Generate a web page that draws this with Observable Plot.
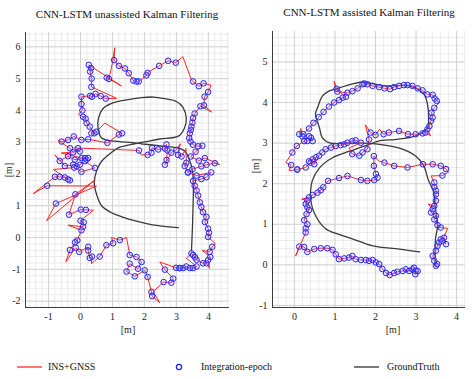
<!DOCTYPE html>
<html>
<head>
<meta charset="utf-8">
<script src="https://cdn.jsdelivr.net/npm/d3@7"></script>
<script src="https://cdn.jsdelivr.net/npm/@observablehq/plot@0.6"></script>
<style>
  html, body { margin: 0; padding: 0; background: #fff; }
  #fig { position: relative; width: 474px; height: 379px; background: #fff; font-family: "Liberation Serif", "Times New Roman", serif; color: #111; overflow: hidden; }
  #fig svg, #fig svg text { font-family: "Liberation Serif", "Times New Roman", serif !important; }
  #fig svg g[aria-label$="tick label"] text { fill: #262626; }
  .abs { position: absolute; white-space: nowrap; }
  .title { font-size: 11px; transform: translate(-50%, -50%); }
  .lab { font-size: 10px; color: #262626; transform: translate(-50%, -50%); }
  .ylab { font-size: 10px; color: #262626; transform: translate(-50%, -50%) rotate(-90deg); }
  .leg { font-size: 10px; top: 361px; }
</style>
</head>
<body>
<div id="fig">
  <div id="p1" class="abs" style="left:0;top:0"></div>
  <div id="p2" class="abs" style="left:237px;top:0"></div>
  <div class="abs title" style="left:127px;top:14px">CNN-LSTM unassisted Kalman Filtering</div>
  <div class="abs title" style="left:369px;top:12px">CNN-LSTM assisted Kalman Filtering</div>
  <div class="abs lab" style="left:128px;top:329px">[m]</div>
  <div class="abs lab" style="left:393px;top:329px">[m]</div>
  <div class="abs ylab" style="left:8px;top:170px">[m]</div>
  <div class="abs ylab" style="left:255px;top:166px">[m]</div>
  <div id="legend"></div>
</div>
<script>
// ---------------- data ----------------
const titles = ["CNN-LSTM unassisted Kalman Filtering", "CNN-LSTM assisted Kalman Filtering"];
const legendLabels = ["INS+GNSS", "Integration-epoch", "GroundTruth"];

const xTicksLeft = [-1, 0, 1, 2, 3, 4];
const yTicksLeft = [-2, -1, 0, 1, 2, 3, 4, 5, 6];
const xTicksRight = [0, 1, 2, 3, 4];
const yTicksRight = [-1, 0, 1, 2, 3, 4, 5];

// ground truth trajectories [x, y]
const gtLeft = [[3.47,-0.42],[3.50,0.30],[3.52,1.00],[3.53,1.60],[3.50,2.10],[3.41,2.44],[3.22,2.75],[2.48,2.88],[1.90,2.95],[1.44,3.00],[1.07,3.03],[0.66,3.13],[0.55,3.45],[0.56,3.75],[0.70,4.05],[0.97,4.22],[1.44,4.33],[1.90,4.40],[2.28,4.42],[2.63,4.37],[3.00,4.28],[3.20,4.10],[3.31,3.75],[3.25,3.44],[3.06,3.19],[2.48,3.10],[2.06,3.02],[1.60,2.93],[1.18,2.82],[0.90,2.62],[0.66,2.40],[0.50,2.09],[0.43,1.72],[0.50,1.37],[0.66,1.00],[0.97,0.78],[1.30,0.65],[1.69,0.53],[2.10,0.43],[2.44,0.375],[3.06,0.31]];

const gtRight = [[3.48,-0.02],[3.47,0.30],[3.48,0.64],[3.53,0.96],[3.50,1.25],[3.46,1.53],[3.43,1.82],[3.31,2.07],[3.19,2.44],[2.99,2.68],[2.57,2.88],[2.00,2.98],[1.60,3.00],[1.26,3.00],[0.89,3.00],[0.69,3.13],[0.62,3.37],[0.52,3.72],[0.57,3.87],[0.69,4.16],[0.85,4.28],[1.11,4.36],[1.43,4.46],[1.70,4.50],[2.22,4.41],[2.83,4.41],[3.19,4.21],[3.28,3.97],[3.31,3.62],[3.28,3.37],[2.99,3.18],[2.57,3.10],[2.07,3.05],[1.93,3.00],[1.36,2.80],[0.94,2.64],[0.62,2.39],[0.44,2.07],[0.40,1.82],[0.40,1.63],[0.49,1.28],[0.77,0.89],[1.10,0.75],[1.43,0.64],[1.93,0.47],[2.59,0.39],[3.09,0.32]];

// INS+GNSS paths [x, y, isIntegrationEpoch]
const insLeftA = [[3.10,-0.96,1],[3.21,-0.96,1],[3.31,-0.91,1],[3.42,-0.96,1],[3.52,-0.96,1],[3.63,-0.91,1],[3.31,-0.65,0],[3.47,-0.50,1],[3.52,-0.55,1],[3.58,-0.62,1],[3.63,-0.70,1],[3.83,-0.81,1],[3.94,-0.81,1],[4.04,-0.97,0],[3.99,-0.71,1],[4.06,-0.61,1],[3.80,-0.40,0],[4.04,-0.45,1],[4.12,-0.29,1],[4.22,-0.20,0],[3.99,0.02,1],[4.02,0.15,1],[3.99,0.28,1],[3.89,0.49,1],[3.94,0.65,1],[3.83,0.80,1],[3.78,0.96,1],[3.73,1.11,1],[3.68,1.32,1],[3.63,1.48,1],[3.57,1.63,1],[3.52,1.78,1],[3.78,1.84,1],[3.94,1.90,1],[4.09,2.05,1],[3.63,1.95,1],[3.36,2.05,1],[3.50,2.15,1],[3.78,2.24,1],[3.94,2.29,1],[4.20,2.34,1],[4.35,2.30,0],[3.89,2.50,1],[3.70,2.42,1],[3.45,2.55,1],[3.60,2.70,1],[3.81,2.89,1],[3.68,2.87,1],[3.52,2.92,1],[3.44,3.02,1],[3.40,3.13,1],[3.42,3.28,1],[3.45,3.39,1],[3.47,3.49,1],[3.50,3.62,1],[3.52,3.76,1],[3.57,3.90,1],[3.75,4.13,1],[4.10,3.95,0],[3.86,4.16,1],[3.88,4.43,1],[3.99,4.58,1],[4.09,4.79,0],[3.85,4.85,1],[3.70,4.76,1],[3.52,4.91,1],[3.47,4.96,0],[3.20,5.69,0],[2.98,5.50,1],[2.74,5.56,1],[2.46,5.40,1],[2.20,5.25,0],[2.10,5.18,1],[2.06,5.10,1],[1.82,4.91,1],[1.75,4.91,1],[1.65,4.94,1],[1.51,5.17,1],[1.39,5.32,1],[1.20,5.40,1],[1.05,5.58,1],[1.07,5.97,0],[1.00,5.50,0],[0.89,4.99,1],[0.82,5.03,1],[1.28,4.77,0],[0.26,5.43,1],[0.33,5.33,1],[0.30,5.22,1],[0.35,5.00,1],[0.34,4.74,1],[1.13,4.38,0],[0.79,4.37,1],[0.63,4.45,1],[0.47,4.52,1],[0.36,4.43,1],[0.30,4.46,1],[0.03,4.43,1],[0.03,4.20,1],[0.06,4.00,1],[-0.07,3.88,0],[0.08,3.80,1],[0.16,3.74,1],[0.19,3.60,1],[0.29,3.49,1],[0.43,3.28,1],[0.34,3.28,1],[0.50,3.33,1],[0.76,3.60,0],[1.30,3.28,1],[1.20,3.24,1],[0.84,2.98,1],[0.24,3.09,1],[0.03,3.07,1],[-0.21,3.18,1],[-0.39,3.07,1],[-0.59,3.02,1],[-0.70,3.05,0],[-0.33,2.81,1],[-0.23,2.68,1],[-0.08,2.81,1],[-0.02,2.71,1],[-0.60,2.66,0],[0.03,2.50,1],[0.14,2.50,1],[0.19,2.45,1],[0.24,2.50,1],[-0.18,2.45,1],[-0.39,2.56,1],[-0.65,2.41,1],[-0.80,2.60,0],[-0.49,2.25,1],[-0.23,2.29,1],[-0.12,2.24,1],[-0.02,2.29,1],[0.14,2.40,1],[0.45,2.19,1],[0.03,2.07,1],[-0.20,2.20,1],[-0.85,2.14,0],[-0.33,1.80,1],[-0.39,1.83,1],[-0.49,1.89,1],[-0.65,1.91,1],[-0.80,1.91,1],[-1.48,1.38,0],[-1.04,1.63,1],[0.50,1.62,0],[-0.77,1.07,1],[-1.06,0.53,0],[0.45,1.81,0],[-0.16,1.36,1],[-0.36,0.72,1],[0.01,0.88,1],[0.17,0.87,1],[0.40,0.86,0],[0.00,0.53,1],[0.10,0.48,1],[0.08,0.34,1],[-0.39,0.39,0],[0.03,0.23,1],[-0.10,-0.09,1],[-0.17,-0.15,1],[-0.33,-0.39,1],[-0.46,-0.76,0],[-0.15,-0.32,1],[-0.04,-0.45,1],[0.24,-0.29,1],[0.24,-0.41,1],[0.29,-0.64,1],[0.36,-0.60,1],[0.34,-0.82,0],[0.60,-0.60,1],[0.81,-0.24,1],[1.02,-0.18,1],[0.97,0.00,0],[1.23,-0.08,1],[1.44,0.00,0],[1.54,-0.55,1],[1.75,-0.61,1],[1.91,-0.77,1],[1.80,-0.98,1],[1.54,-0.82,1],[1.44,-1.07,1],[1.70,-1.22,1],[2.01,-1.03,1],[2.10,-1.24,1],[2.22,-1.71,1],[2.24,-1.84,1],[2.48,-2.05,0],[2.27,-1.70,0],[2.60,-1.40,1],[2.84,-1.42,1],[2.90,-1.29,1],[2.64,-1.01,1],[2.48,-0.77,0],[2.99,-0.95,1],[3.10,-0.96,1]];

const insLeftB = [[-0.20,2.82,0],[1.83,2.74,1],[1.90,2.60,0],[2.10,2.60,1],[2.22,2.67,1],[2.24,2.82,1],[2.43,2.77,1],[2.64,2.80,1],[2.69,2.93,1],[2.72,2.74,1],[2.69,2.44,1],[2.64,2.29,1],[2.84,2.67,1],[3.00,2.76,1],[3.12,2.95,0],[3.05,2.60,1],[3.16,2.55,1],[3.30,2.80,0],[3.31,2.35,1],[3.26,2.25,1],[3.36,2.05,1]];

const insRightA = [[3.49,-0.02,1],[3.52,0.02,1],[3.45,0.10,1],[3.41,0.22,1],[3.49,0.35,1],[3.53,0.47,1],[3.57,0.55,1],[3.61,0.63,1],[3.69,0.67,1],[3.74,0.51,1],[3.65,0.59,1],[3.78,0.90,0],[3.61,0.92,1],[3.53,0.98,1],[3.45,1.12,1],[3.49,1.21,1],[3.37,1.29,1],[3.41,1.37,1],[3.30,1.50,0],[3.45,1.45,1],[3.49,1.58,1],[3.49,1.74,1],[3.49,1.83,1],[3.45,1.92,1],[3.45,2.03,1],[3.37,2.19,0],[3.65,2.20,1],[3.80,2.28,0],[3.74,2.36,1],[3.61,2.44,1],[3.41,2.48,1],[3.17,2.48,1],[2.79,2.40,1],[2.46,2.44,1],[2.22,2.52,1],[2.08,2.56,0],[1.96,2.68,1],[1.96,2.44,1],[2.01,2.24,1],[2.05,2.15,1],[1.97,2.09,1],[1.80,2.07,1],[1.64,2.09,1],[1.31,2.19,1],[1.10,2.14,1],[0.83,2.07,1],[0.71,1.91,1],[0.65,1.84,1],[0.57,1.78,1],[0.45,1.72,1],[0.36,1.66,1],[0.18,1.62,0],[0.32,1.58,1],[0.28,1.50,1],[0.32,1.42,1],[0.36,1.35,1],[0.30,1.25,1],[0.24,1.10,1],[0.32,1.00,1],[0.28,0.90,1],[0.28,0.80,1],[0.03,0.22,0],[0.12,0.45,1],[0.24,0.44,1],[0.32,0.32,1],[0.49,0.39,1],[0.65,0.41,1],[0.81,0.41,1],[0.94,0.37,1],[1.02,0.26,1],[1.10,0.14,1],[1.23,0.16,1],[1.35,0.18,1],[1.43,0.22,1],[1.51,0.14,1],[1.64,0.12,1],[1.76,0.12,1],[1.84,0.10,1],[1.93,0.12,1],[2.01,0.06,1],[2.09,0.02,1],[2.17,-0.10,1],[2.26,-0.20,1],[2.35,-0.25,1],[2.46,-0.20,1],[2.54,-0.17,1],[2.67,-0.15,1],[2.75,-0.11,1],[2.83,-0.15,1],[2.91,-0.11,1],[2.95,-0.07,1],[2.99,-0.15,1],[2.98,-0.23,1],[3.04,-0.15,1]];

const insRightB = [[0.07,2.35,1],[0.28,2.40,1],[0.40,2.52,1],[0.45,2.60,1],[0.36,2.55,1],[0.53,2.65,1],[0.49,2.48,1],[0.61,2.69,1],[0.69,2.77,1],[0.77,2.85,1],[0.90,2.89,1],[1.02,2.93,1],[1.14,2.95,1],[1.23,2.97,1],[1.31,3.01,1],[1.43,3.05,1],[1.51,3.07,1],[1.64,3.01,1],[1.35,2.88,0],[1.43,2.73,1],[1.60,2.69,1],[1.68,2.77,1],[1.80,2.85,1],[1.84,3.09,1],[1.75,3.45,0],[1.88,3.26,1],[2.00,3.20,1],[2.10,3.34,0],[2.20,3.22,1],[2.33,3.26,1],[2.58,3.30,1],[2.80,3.22,1],[2.99,3.22,1],[3.16,3.24,1],[3.23,3.26,1],[3.36,3.18,0],[3.28,3.34,1],[3.33,3.42,1],[3.37,3.55,1],[3.41,3.63,1],[3.38,3.75,1],[3.45,3.87,1],[3.58,4.00,0],[3.51,4.04,1],[3.46,4.10,1],[3.41,4.19,1],[3.28,4.20,1],[3.16,4.30,1],[3.04,4.35,1],[2.91,4.41,1],[2.79,4.43,1],[2.70,4.43,1],[2.58,4.41,1],[2.46,4.38,1],[2.36,4.33,1],[2.22,4.35,1],[2.09,4.38,1],[1.93,4.41,1],[1.80,4.45,1],[1.72,4.47,1],[1.68,4.45,1],[1.56,4.35,1],[1.43,4.28,1],[1.31,4.24,1],[1.06,4.27,1],[1.04,4.34,1],[0.98,4.53,0],[1.02,4.33,0],[1.27,4.14,1],[1.19,4.12,1],[1.10,4.06,1],[0.98,4.00,1],[0.85,3.90,1],[0.72,3.77,1],[0.60,3.64,1],[0.47,3.50,1],[0.36,3.36,1],[0.22,3.22,1],[0.12,3.22,1],[0.16,3.36,0],[0.20,3.16,1],[0.32,3.05,1],[0.41,3.13,1],[0.45,3.05,1],[0.36,3.17,1],[0.24,3.05,1],[0.06,2.93,1],[-0.05,2.77,1],[-0.21,2.52,0],[-0.08,2.46,1],[-0.13,2.32,0],[0.07,2.35,1]];

// ---------------- drawing ----------------
const RED = "#ff1a1a", BLUE = "#2424ff", GT = "#3a3a3a";

function minorTicks([a, b]) {
  return d3.range(Math.ceil(a * 5), Math.floor(b * 5) + 1).map(k => k / 5);
}

function panel({xDomain, yDomain, xTicks, yTicks, gt, segs, margins}) {
  const ins = segs.flatMap((s, i) => s.map(d => ({x: d[0], y: d[1], e: d[2], s: i})));
  return Plot.plot({
    width: 237,
    height: 340,
    ...margins,
    style: {fontFamily: "'Liberation Serif', 'Times New Roman', serif", fontSize: "10px", color: "#262626", background: "transparent"},
    x: {domain: xDomain, ticks: xTicks, tickSize: 0, tickPadding: 5, tickFormat: d => String(d), label: null},
    y: {domain: yDomain, ticks: yTicks, tickSize: 0, tickPadding: 5, tickFormat: d => String(d), label: null},
    marks: [
      Plot.ruleX(minorTicks(xDomain), {stroke: "#e6e6e6", strokeWidth: 0.8}),
      Plot.ruleY(minorTicks(yDomain), {stroke: "#e6e6e6", strokeWidth: 0.8}),
      Plot.ruleX(xTicks, {stroke: "#d0d0d0", strokeWidth: 0.9}),
      Plot.ruleY(yTicks, {stroke: "#d0d0d0", strokeWidth: 0.9}),
      Plot.ruleX([xDomain[0]], {stroke: "#3c3c3c", strokeWidth: 1}),
      Plot.ruleY([yDomain[0]], {stroke: "#3c3c3c", strokeWidth: 1}),
      Plot.line(gt, {x: d => d[0], y: d => d[1], stroke: GT, strokeWidth: 1.3, curve: "catmull-rom"}),
      Plot.line(ins, {x: "x", y: "y", z: "s", stroke: RED, strokeWidth: 0.95}),
      Plot.dot(ins.filter(d => d.e), {x: "x", y: "y", r: 2.8, stroke: BLUE, strokeWidth: 1, fill: "#a898ff", fillOpacity: 0.2})
    ]
  });
}

document.getElementById("p1").appendChild(panel({
  xDomain: [-1.72, 4.66], yDomain: [-2.2, 6.45],
  xTicks: xTicksLeft, yTicks: yTicksLeft,
  gt: gtLeft, segs: [insLeftA, insLeftB],
  margins: {marginLeft: 25, marginRight: 8, marginTop: 32, marginBottom: 33}
}));

document.getElementById("p2").appendChild(panel({
  xDomain: [-0.54, 4.22], yDomain: [-1.05, 5.75],
  xTicks: xTicksRight, yTicks: yTicksRight,
  gt: gtRight, segs: [insRightA, insRightB],
  margins: {marginLeft: 35, marginRight: 9, marginTop: 31, marginBottom: 33}
}));

// legend
const leg = document.getElementById("legend");
leg.innerHTML = `
<svg class="abs" style="left:0;top:355px" width="474" height="24">
  <line x1="17" x2="42" y1="12" y2="12" stroke="${RED}" stroke-width="1.2"/>
  <circle cx="179" cy="12" r="2.6" fill="none" stroke="${BLUE}" stroke-width="1.3"/>
  <line x1="354" x2="379" y1="12" y2="12" stroke="#222" stroke-width="1.2"/>
</svg>
<div class="abs leg" style="left:48px">${legendLabels[0]}</div>
<div class="abs leg" style="left:201px">${legendLabels[1]}</div>
<div class="abs leg" style="left:387px">${legendLabels[2]}</div>`;
</script>
</body>
</html>
